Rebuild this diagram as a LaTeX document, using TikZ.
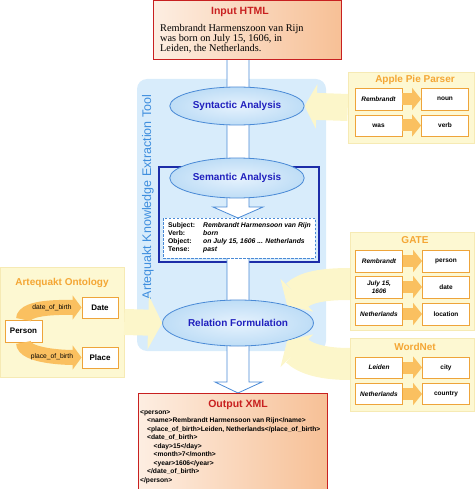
\documentclass[tikz,border=0pt]{standalone}
\usepackage{fontspec}
\setmainfont{Liberation Serif}
\setsansfont{Liberation Sans}
\usepackage{tikz}
\usetikzlibrary{arrows.meta,shapes.geometric}
\usepackage{xcolor}
\definecolor{myred}{RGB}{200,32,32}
\definecolor{mypeach}{RGB}{253,238,226}
\definecolor{myorangefill}{RGB}{247,192,150}
\definecolor{mytool}{RGB}{216,236,251}
\definecolor{mypipe}{RGB}{74,138,214}
\definecolor{mydarkblue}{RGB}{28,44,168}
\definecolor{myellipse}{RGB}{190,221,246}
\definecolor{myellipsein}{RGB}{230,242,253}
\definecolor{mytextblue}{RGB}{32,32,190}
\definecolor{mylabelblue}{RGB}{62,142,222}
\definecolor{myyellow}{RGB}{253,248,210}
\definecolor{myyellowline}{RGB}{246,234,180}
\definecolor{mybigarrow}{RGB}{252,246,202}
\definecolor{mytitle}{RGB}{244,166,52}
\definecolor{myboxline}{RGB}{238,164,58}
\definecolor{myarrow}{RGB}{250,192,96}

\begin{document}
\begin{tikzpicture}[x=1pt,y=1pt,
  iobox/.style={draw=myred, line width=0.9pt, left color=mypeach, right color=myorangefill, inner sep=0},
  iotitle/.style={text=myred, font=\sffamily\bfseries\fontsize{10.5}{12}\selectfont},
  panel/.style={fill=myyellow, draw=myyellowline, line width=0.5pt, inner sep=0},
  paneltitle/.style={text=mytitle, font=\sffamily\bfseries\fontsize{10}{12}\selectfont},
  wordbox/.style={draw=myboxline, fill=white, line width=0.9pt, minimum width=47pt, minimum height=22pt, inner sep=1pt, align=center, font=\sffamily\bfseries\fontsize{6.5}{7.5}\selectfont},
  wordit/.style={wordbox, font=\sffamily\bfseries\itshape\fontsize{6.5}{7.5}\selectfont},
  ontobox/.style={wordbox, minimum width=37pt, font=\sffamily\bfseries\fontsize{8}{9}\selectfont},
  procstep/.style={ellipse, draw=mypipe, line width=0.8pt, inner color=myellipsein, outer color=myellipse, minimum width=118pt, minimum height=38pt, text=mytextblue, font=\sffamily\bfseries\fontsize{10}{12}\selectfont},
  pipe/.style={draw=mypipe, fill=white, line width=0.8pt},
  smallarrow/.style={draw=myarrow, line width=12pt, -{Triangle[length=9pt,width=22pt]}},
  bigarrow/.style={draw=mybigarrow, line width=#1},
  ontoband/.style={draw=myarrow, line width=15pt, -{Triangle[length=9pt,width=24pt]}},
  bandlabel/.style={font=\sffamily\fontsize{6.7}{8}\selectfont, inner sep=0}
]
  \useasboundingbox (0,0) rectangle (474,-489);

  % extraction tool
  \node[fill=mytool, rounded corners=10pt, minimum width=189pt, minimum height=272pt, inner sep=0] (tool) at (231.5,-215) {};
  \node[rotate=90, text=mylabelblue, font=\sffamily\fontsize{12.5}{14}\selectfont] (tooltitle) at (148,-197) {Artequakt Knowledge Extraction Tool};
  \node[draw=mydarkblue, line width=1.2pt, minimum width=160pt, minimum height=95pt, inner sep=0] (semframe) at (239,-214.5) {};

  % hollow flow
  \draw[pipe] (227,-60) -- (227,-207) -- (213,-207) -- (238,-218) -- (263,-207) -- (249,-207) -- (249,-60);
  \draw[pipe] (227,-258) -- (227,-382) -- (215,-382) -- (238,-393) -- (262,-382) -- (249,-382) -- (249,-258);

  \node[procstep] (syn) at (237,-106) {Syntactic Analysis};
  \node[procstep, minimum height=40pt] (sem) at (237,-178) {Semantic Analysis};
  \node[procstep, minimum width=120pt, minimum height=46pt] (rel) at (238,-323) {Relation Formulation};

  \node[draw=mypipe, dash pattern=on 2.5pt off 1.5pt, fill=white, line width=0.7pt, minimum width=152pt, minimum height=40pt, inner sep=0] (slotbox) at (239,-238) {};
  \node[anchor=west, inner sep=0, align=left, font=\sffamily\bfseries\fontsize{6.8}{8}\selectfont] (slots) at (168,-238)
    {\makebox[35pt][l]{Subject:}\textit{Rembrandt Harmensoon van Rijn}\\
     \makebox[35pt][l]{Verb:}\textit{born}\\
     \makebox[35pt][l]{Object:}\textit{on July 15, 1606 ... Netherlands}\\
     \makebox[35pt][l]{Tense:}\textit{past}};

  % Apple Pie Parser
  \node[panel, minimum width=126pt, minimum height=71pt] (app) at (411,-107.5) {};
  \node[paneltitle] (apptitle) at (415,-80) {Apple Pie Parser};
  \node[wordit] (apw1) at (378.5,-99) {Rembrandt};
  \node[wordbox] (apt1) at (445,-99) {noun};
  \node[wordbox, minimum height=21pt] (apw2) at (378.5,-125.5) {was};
  \node[wordbox, minimum height=21pt] (apt2) at (445,-125.5) {verb};
  \draw[smallarrow] (apw1) -- (apt1);
  \draw[smallarrow] (apw2) -- (apt2);

  % GATE
  \node[panel, minimum width=124pt, minimum height=98pt] (gate) at (412,-281) {};
  \node[paneltitle] (gatetitle) at (415,-240) {GATE};
  \node[wordit] (gw1) at (379,-261) {Rembrandt};
  \node[wordbox] (gt1) at (446,-261) {person};
  \node[wordit] (gw2) at (379,-287) {July 15,\\1606};
  \node[wordbox] (gt2) at (446,-287) {date};
  \node[wordit] (gw3) at (379,-314) {Netherlands};
  \node[wordbox] (gt3) at (446,-314) {location};
  \draw[smallarrow] (gw1) -- (gt1);
  \draw[smallarrow] (gw2) -- (gt2);
  \draw[smallarrow] (gw3) -- (gt3);

  % WordNet
  \node[panel, minimum width=124pt, minimum height=73pt] (wn) at (412,-374.5) {};
  \node[paneltitle] (wntitle) at (415,-347) {WordNet};
  \node[wordit, minimum height=21pt] (ww1) at (379,-367.5) {Leiden};
  \node[wordbox, minimum height=21pt] (wt1) at (446,-367.5) {city};
  \node[wordit, minimum height=21pt] (ww2) at (379,-394) {Netherlands};
  \node[wordbox, minimum height=21pt] (wt2) at (446,-394) {country};
  \draw[smallarrow] (ww1) -- (wt1);
  \draw[smallarrow] (ww2) -- (wt2);

  % Artequakt Ontology
  \node[panel, minimum width=124pt, minimum height=110pt] (onto) at (62,-322) {};
  \node[paneltitle] (ontotitle) at (62,-283) {Artequakt Ontology};
  \node[ontobox] (per) at (23.5,-331) {Person};
  \node[ontobox, minimum width=36pt, minimum height=21pt] (dat) at (100,-307.5) {Date};
  \node[ontobox, minimum width=36pt, minimum height=21pt] (plc) at (100,-357.5) {Place};
  \draw[ontoband] (per) to[out=90,in=180,looseness=0.6] (dat);
  \draw[ontoband] (per) to[out=-90,in=180,looseness=0.6] (plc);
  \node[bandlabel] (doblabel) at (52,-308) {date\_of\_birth};
  \node[bandlabel] (poblabel) at (52,-357) {place\_of\_birth};

  % resources into the tool
  \coordinate (gatein) at (350,-284);
  \coordinate (wnin) at (350,-364);
  \draw[bigarrow=27pt, -{Triangle[length=12pt,width=44pt]}] (app.west) -- (syn.east);
  \draw[bigarrow=26pt, -{Triangle[length=14pt,width=53pt]}] (onto.east) -- (rel.west);
  \draw[bigarrow=32pt, -{Triangle[length=14pt,width=46pt]}] (gatein) to[out=180,in=45] (rel.20);
  \draw[bigarrow=32pt, -{Triangle[length=14pt,width=46pt]}] (wnin) to[out=180,in=-45] (rel.-20);

  % input and output
  \node[iobox, minimum width=188pt, minimum height=59pt] (inp) at (247,-30) {};
  \node[iotitle] (inptitle) at (240,-12) {Input HTML};
  \node[anchor=west, inner sep=0, align=left, font=\rmfamily\fontsize{10.3}{10.2}\selectfont] (inptext) at (160,-39)
    {Rembrandt Harmenszoon van Rijn\\was born on July 15, 1606, in\\Leiden, the Netherlands.};

  \node[iobox, minimum width=189pt, minimum height=98pt] (outb) at (232.5,-442) {};
  \node[iotitle] (outtitle) at (238,-405) {Output XML};
  \node[anchor=north west, inner sep=0, align=left, font=\sffamily\bfseries\fontsize{6.7}{8.5}\selectfont] (xml) at (140,-410)
    {<person>\\
     \hspace*{7pt}<name>Rembrandt Harmensoon van Rijn</name>\\
     \hspace*{7pt}<place\_of\_birth>Leiden, Netherlands</place\_of\_birth>\\
     \hspace*{7pt}<date\_of\_birth>\\
     \hspace*{13.5pt}<day>15</day>\\
     \hspace*{13.5pt}<month>7</month>\\
     \hspace*{13.5pt}<year>1606</year>\\
     \hspace*{7pt}</date\_of\_birth>\\
     </person>};
\end{tikzpicture}
\end{document}
